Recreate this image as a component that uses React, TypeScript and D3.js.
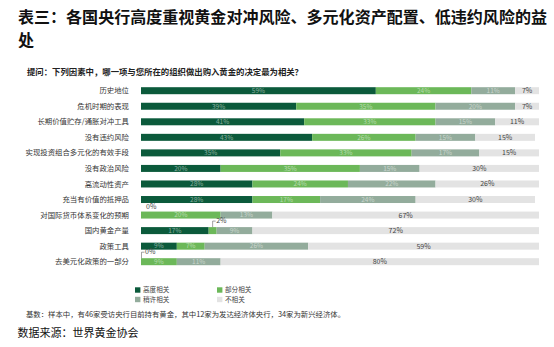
import React from "react";
import * as d3 from "d3";

const title1 = "表三：各国央行高度重视黄金对冲风险、多元化资产配置、低违约风险的益";
const title2 = "处";
const question = "提问：下列因素中，哪一项与您所在的组织做出购入黄金的决定最为相关？";
const note = "基数：样本中，有46家受访央行目前持有黄金，其中12家为发达经济体央行，34家为新兴经济体。";
const source = "数据来源：世界黄金协会";

const categories = [
  "历史地位",
  "危机时期的表现",
  "长期价值贮存/通胀对冲工具",
  "没有违约风险",
  "实现投资组合多元化的有效手段",
  "没有政治风险",
  "高流动性资产",
  "充当有价值的抵押品",
  "对国际货币体系变化的预期",
  "国内黄金产量",
  "政策工具",
  "去美元化政策的一部分",
];
const seriesNames = ["高度相关", "部分相关", "稍许相关", "不相关"];
const high = [59, 39, 41, 43, 35, 20, 28, 28, 0, 17, 9, 0];
const partial = [24, 35, 33, 26, 33, 35, 24, 17, 20, 2, 7, 9];
const slight = [11, 20, 15, 15, 17, 15, 22, 24, 13, 9, 26, 11];
const none = [7, 7, 11, 15, 15, 30, 26, 30, 67, 72, 59, 80];

const colors = ["#0b5a3b", "#6cb859", "#93ac9c", "#e3e3e3"];
const FONT = "'Noto Sans CJK SC', 'Noto Sans', sans-serif";

export default function App() {
  const W = 554, H = 347;
  const x = d3.scaleLinear().domain([0, 100]).range([141, 539]).clamp(true);
  const y = d3.scalePoint<string>().domain(categories).range([90.7, 261.7]);
  const barH = 7;
  const seriesVals = [high, partial, slight, none];

  const rows = categories.map((c, i) => {
    let cum = 0;
    const segs = seriesVals.map((vals, s) => {
      const v = vals[i];
      const x0 = x(cum);
      cum += v;
      const x1 = x(cum);
      return { s, v, x0, x1 };
    });
    return { c, i, segs };
  });

  return (
    <svg width={W} height={H} style={{ display: "block", position: "absolute", left: 0, top: 0 }} fontFamily={FONT}>
      <rect width={W} height={H} fill="#fff" />
      <text x={18} y={23} fontSize={16} fontWeight="bold" fill="#111" textLength={529} lengthAdjust="spacingAndGlyphs">{title1}</text>
      <text x={18} y={46} fontSize={16} fontWeight="bold" fill="#111">{title2}</text>
      <text x={27} y={75} fontSize={8.3} fontWeight="bold" fill="#222" textLength={276} lengthAdjust="spacingAndGlyphs">{question}</text>

      {rows.map((r) => {
        const cy = y(r.c)!;
        return (
          <g key={r.c}>
            <text x={129} y={cy} dy="0.35em" textAnchor="end" fontSize={7.4} fill="#333">{r.c}</text>
            {r.segs.map((sg) =>
              sg.x1 - sg.x0 > 0 ? (
                <rect key={sg.s} x={sg.x0} y={cy - barH / 2} width={sg.x1 - sg.x0} height={barH} fill={colors[sg.s]} />
              ) : null
            )}
            {r.segs.map((sg) => {
              const w = sg.x1 - sg.x0;
              const cx = (sg.x0 + sg.x1) / 2;
              if (sg.s === 3) {
                return (
                  <text key={"l" + sg.s} x={cx} y={cy} dy="0.35em" textAnchor="middle" fontSize={7} fill="#444">{sg.v}%</text>
                );
              }
              if (sg.v === 0 && r.i === 8) {
                return (
                  <text key={"l" + sg.s} x={sg.x0 + 5} y={cy - barH / 2 - 3} textAnchor="start" fontSize={7} fill="#444">{sg.v}%</text>
                );
              }
              if (w < 12) {
                const top = cy - barH / 2;
                const lx = sg.x0 + Math.max(w / 2, 0.5);
                return (
                  <g key={"l" + sg.s}>
                    <path d={`M${lx},${top} V${top - 6} H${lx + 3}`} fill="none" stroke="#666" strokeWidth={0.6} />
                    <text x={lx + 3.5} y={top - 3.8} fontSize={7} fill="#444">{sg.v}%</text>
                  </g>
                );
              }
              return (
                <text key={"l" + sg.s} x={cx} y={cy} dy="0.35em" textAnchor="middle" fontSize={6.5} fill="#fff" fillOpacity={0.5}>{sg.v}%</text>
              );
            })}
          </g>
        );
      })}

      {seriesNames.map((n, k) => {
        const lx = k % 2 === 0 ? 135 : 217;
        const ly = k < 2 ? 290 : 299.5;
        return (
          <g key={n}>
            <rect x={lx} y={ly - 2.7} width={5.4} height={5.4} fill={colors[k]} />
            <text x={lx + 8} y={ly} dy="0.35em" fontSize={6.6} fill="#444">{n}</text>
          </g>
        );
      })}

      <text x={26} y={314.5} dy="0.35em" fontSize={7} fill="#333" textLength={319} lengthAdjust="spacingAndGlyphs">{note}</text>
      <text x={17.5} y={333.5} dy="0.35em" fontSize={11} fill="#111">{source}</text>
    </svg>
  );
}
